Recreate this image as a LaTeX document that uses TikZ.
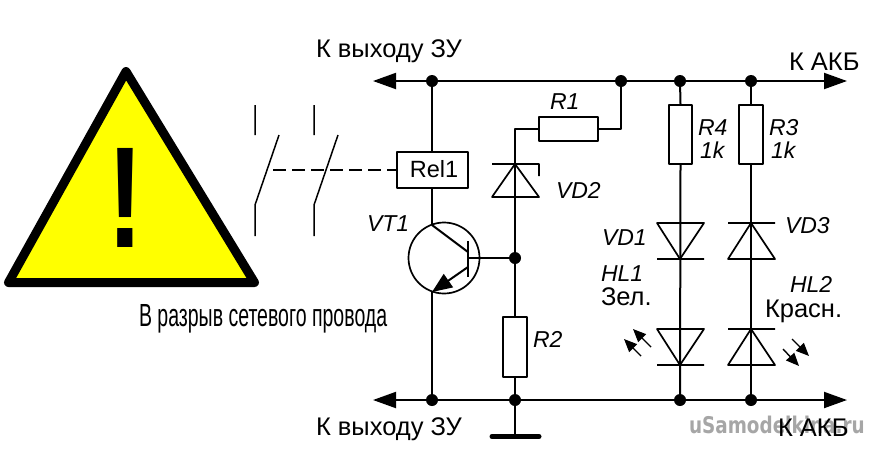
\documentclass[tikz,border=0pt]{standalone}
\usepackage{fontspec}
\setmainfont{Liberation Sans}
\newfontfamily\capfont[FakeStretch=0.61]{Liberation Sans}
\newfontfamily\bangfont[FakeStretch=0.75]{Liberation Sans}
\newfontfamily\markfont[FakeStretch=0.8]{DejaVu Sans}
\usetikzlibrary{arrows.meta}
\definecolor{warnyellow}{RGB}{255,255,0}
\tikzset{
res/.style={draw,fill=white,line width=1.7pt,inner sep=0pt,minimum width=#1},
lab/.style={anchor=base west,inner sep=0pt},
ledray/.style={line width=1.4pt,-{Triangle[length=13pt,width=11pt]}}
}
\begin{document}
\begin{tikzpicture}[x=1pt,y=-1pt,>={Triangle[length=23pt,width=16pt]},line join=round,line cap=butt,line width=2pt,font=\fontsize{25.5}{25.5}\selectfont]
\useasboundingbox (0,0) rectangle (877,451);
% warning sign
\path (126,71.5)coordinate(TA) (8.5,282.5)coordinate(TB) (254.5,282.5)coordinate(TC);
\draw[line width=9pt,fill=warnyellow] (TA)--(TB)--(TC)--cycle;
\node[lab,anchor=base,font=\bangfont\bfseries\fontsize{144}{144}\selectfont] (bang) at (125,247) {!};
\node[lab,font=\capfont\fontsize{32}{32}\selectfont] (cap) at (138,326) {В разрыв сетевого провода};
% rails
\path (373,81)coordinate(LT) (847,81)coordinate(RT) (373,400)coordinate(LB) (847,400)coordinate(RB)
 (432,81)coordinate(A1) (621,81)coordinate(A2) (680,81)coordinate(A3) (751,81)coordinate(A4)
 (432,400)coordinate(B1) (515,400)coordinate(B2) (680,400)coordinate(B3) (751,400)coordinate(B4)
 (515,258)coordinate(J) (515,129)coordinate(K) (621,129)coordinate(L) (515,436)coordinate(G);
\draw[<->] (LT)--(RT);
\draw[<->] (LB)--(RB);
% parts
\node[draw,fill=white,inner sep=0pt,minimum width=71pt,minimum height=36pt] (Rel) at (432,170) {};
\node[lab,anchor=base,font=\fontsize{23.5}{23.5}\selectfont] (RelT) at (434,177) {Rel1};
\node[res=59pt,minimum height=24pt] (R1) at (568.5,129) {};
\node[res=24pt,minimum height=60pt] (R2) at (515,347) {};
\node[res=23pt,minimum height=59pt] (R4) at (680.5,134.5) {};
\node[res=24pt,minimum height=59pt] (R3) at (751,134.5) {};
% transistor
\path (444,258)coordinate(O) (432,225)coordinate(C) (432,292)coordinate(E) (468,241)coordinate(P) (468,277)coordinate(Q) (468,258)coordinate(S) (468,252)coordinate(CC) (468,267)coordinate(EE);
\draw[line width=1.7pt] (O) circle(35.5);
\draw (P)--(Q);
\draw (C)--(CC);
\draw[-{Triangle[length=20pt,width=16pt]}] (EE)--(E);
% wires
\draw (A1)--(Rel.north);
\draw (Rel.south)--(C);
\draw (E)--(B1);
\draw (S)--(J);
\draw (A2)--(L)--(R1.east);
\draw (R1.west)--(K)--(R2.north);
\draw (R2.south)--(B2)--(G);
\draw (A3)--(R4.north);
\draw (R4.south)--(B3);
\draw (A4)--(R3.north);
\draw (R3.south)--(B4);
\draw[line width=5pt,line cap=round] (492,436.5)--(539,436.5);
% diodes
\draw[line width=1.7pt] (492,197)--(539,197)--(515,164)--cycle (492,164)--(539,164)--(539,176);
\draw[line width=1.7pt] (657,223)--(704,223)--(680,259)--cycle (657,259)--(704,259);
\draw[line width=1.7pt] (657,329)--(704,329)--(680,365)--cycle (657,365)--(704,365);
\draw[line width=1.7pt] (728,259)--(775,259)--(751,223)--cycle (728,223)--(775,223);
\draw[line width=1.7pt] (728,365)--(775,365)--(751,329)--cycle (728,329)--(775,329);
\draw[ledray] (651,347)--(633,329);
\draw[ledray] (641,356)--(624,339);
\draw[ledray] (792,339)--(809,356);
\draw[ledray] (783,349)--(799,366);
% switch
\path (255,105)coordinate(U1) (255,135)coordinate(U2) (279,135)coordinate(V1) (255,205)coordinate(W1) (255,236)coordinate(Z1)
 (314,105)coordinate(U3) (314,135)coordinate(U4) (338,135)coordinate(V2) (314,205)coordinate(W2) (314,236)coordinate(Z2) (273,170)coordinate(D);
\draw[line width=1.5pt] (U1)--(U2) (V1)--(W1)--(Z1) (U3)--(U4) (V2)--(W2)--(Z2);
\draw[line width=1.5pt,dash pattern=on 13pt off 6pt] (D)--(Rel.west);
\foreach \diem in {A1,A2,A3,A4,B1,B2,B3,B4,J} \fill (\diem)circle(6);
% labels
\node[lab,text=black!35,font=\markfont\bfseries\fontsize{23}{23}\selectfont] (mark) at (688,433) {uSamodelkina.ru};
\node[lab] (t1) at (315,57) {К выходу ЗУ};
\node[lab] (t2) at (315,435) {К выходу ЗУ};
\node[lab] (t3) at (788,70) {К АКБ};
\node[lab] (t4) at (777,436) {К АКБ};
\foreach \x/\y/\ten in {549/109/R1,555/198/VD2,366/231/VT1,532/347/R2,697/135/R4,699/158/1k,768/135/R3,770/158/1k,601/245/VD1,784/233/VD3,600/281/HL1,789/292/HL2}
\node[lab,font=\itshape\fontsize{23}{23}\selectfont] (n\ten\x) at (\x,\y) {\ten};
\node[lab] (t5) at (600,305) {Зел.};
\node[lab] (t6) at (764,317) {Красн.};
\end{tikzpicture}
\end{document}
